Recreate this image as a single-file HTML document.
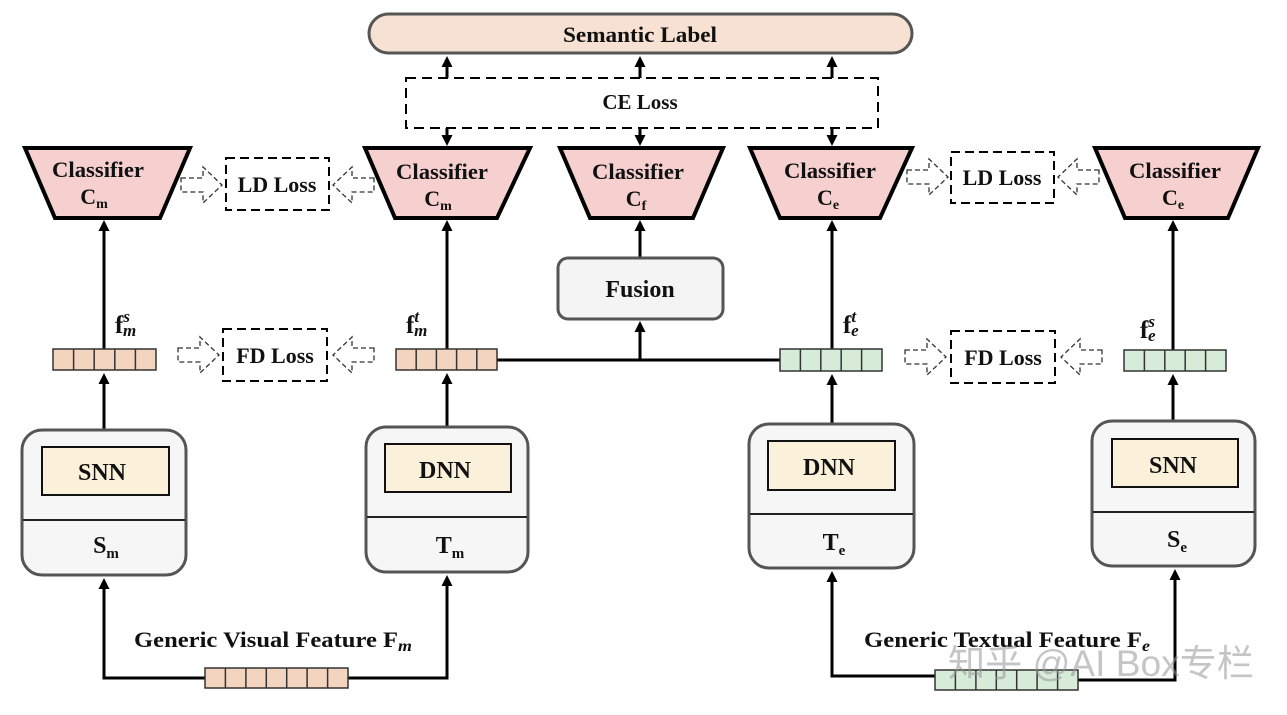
<!DOCTYPE html>
<html><head><meta charset="utf-8"><style>
html,body{margin:0;padding:0;background:#fff;}
svg{display:block;}
text{font-family:"Liberation Serif",serif;font-weight:bold;fill:#111;}
</style></head><body>
<svg width="1287" height="715" viewBox="0 0 1287 715" xmlns="http://www.w3.org/2000/svg">
<defs>
<marker id="ah" markerWidth="11" markerHeight="11" refX="5" refY="5.5" orient="auto" markerUnits="userSpaceOnUse">
<path d="M0,0 L11,5.5 L0,11 Z" fill="#000"/>
</marker>
</defs>
<g id="arrows" stroke="#000" stroke-width="3" fill="none">
<line x1="447" y1="78" x2="447" y2="62" marker-end="url(#ah)"/>
<line x1="640" y1="78" x2="640" y2="62" marker-end="url(#ah)"/>
<line x1="832" y1="78" x2="832" y2="62" marker-end="url(#ah)"/>
<line x1="447" y1="128" x2="447" y2="140" marker-end="url(#ah)"/>
<line x1="640" y1="128" x2="640" y2="140" marker-end="url(#ah)"/>
<line x1="832" y1="128" x2="832" y2="140" marker-end="url(#ah)"/>
<line x1="104" y1="350" x2="104" y2="226" marker-end="url(#ah)"/>
<line x1="447" y1="350" x2="447" y2="226" marker-end="url(#ah)"/>
<line x1="640" y1="258" x2="640" y2="226" marker-end="url(#ah)"/>
<line x1="832" y1="350" x2="832" y2="226" marker-end="url(#ah)"/>
<line x1="1173" y1="350" x2="1173" y2="226" marker-end="url(#ah)"/>
<line x1="497" y1="360" x2="780" y2="360"/>
<line x1="640" y1="360" x2="640" y2="327" marker-end="url(#ah)"/>
<line x1="104" y1="430" x2="104" y2="379" marker-end="url(#ah)"/>
<line x1="447" y1="427" x2="447" y2="379" marker-end="url(#ah)"/>
<line x1="832" y1="424" x2="832" y2="380" marker-end="url(#ah)"/>
<line x1="1173" y1="421" x2="1173" y2="380" marker-end="url(#ah)"/>
<polyline points="205,678 104,678 104,584" marker-end="url(#ah)"/>
<polyline points="348,678 447,678 447,581" marker-end="url(#ah)"/>
<polyline points="935,676 832,676 832,577" marker-end="url(#ah)"/>
<polyline points="1078,680 1175,680 1175,575" marker-end="url(#ah)"/>
</g>

<rect x="369" y="14" width="543" height="39" rx="19.5" fill="#f6e1d2" stroke="#555" stroke-width="3"/>
<text x="640" y="42" font-size="22" text-anchor="middle" textLength="154" lengthAdjust="spacingAndGlyphs">Semantic Label</text>
<rect x="406" y="78" width="472" height="50" fill="none" stroke="#000" stroke-width="2" stroke-dasharray="10,6"/>
<text x="640" y="109" font-size="21" text-anchor="middle">CE Loss</text>

<g stroke="#000" stroke-width="4" fill="#f6cfcf">
<polygon points="25,148 190,148 160,218 55,218"/>
<polygon points="365,148 530,148 497,218 395,218"/>
<polygon points="560,148 723,148 693,218 590,218"/>
<polygon points="750,148 912,148 880,218 780,218"/>
<polygon points="1095,148 1258,148 1228,218 1125,218"/>
</g>
<g font-size="22" text-anchor="middle">
<text x="98" y="177" textLength="92" lengthAdjust="spacingAndGlyphs">Classifier</text><text x="94" y="204">C<tspan font-size="14" dy="4">m</tspan></text>
<text x="442" y="179" textLength="92" lengthAdjust="spacingAndGlyphs">Classifier</text><text x="438" y="206">C<tspan font-size="14" dy="4">m</tspan></text>
<text x="638" y="179" textLength="92" lengthAdjust="spacingAndGlyphs">Classifier</text><text x="636" y="206">C<tspan font-size="14" dy="4">f</tspan></text>
<text x="830" y="178" textLength="92" lengthAdjust="spacingAndGlyphs">Classifier</text><text x="828" y="205">C<tspan font-size="14" dy="4">e</tspan></text>
<text x="1175" y="178" textLength="92" lengthAdjust="spacingAndGlyphs">Classifier</text><text x="1173" y="205">C<tspan font-size="14" dy="4">e</tspan></text>
</g>

<g fill="none" stroke="#000" stroke-width="2" stroke-dasharray="9,5">
<rect x="226" y="158" width="103" height="52"/>
<rect x="951" y="152" width="103" height="51"/>
<rect x="223" y="329" width="104" height="52"/>
<rect x="951" y="331" width="104" height="52"/>
</g>
<g font-size="22" text-anchor="middle">
<text x="277" y="192">LD Loss</text>
<text x="1002" y="185">LD Loss</text>
<text x="275" y="363">FD Loss</text>
<text x="1003" y="365">FD Loss</text>
</g>
<g fill="none" stroke="#333" stroke-width="1.3" stroke-dasharray="5,3">
<polygon points="181,178 203,178 203,167 222,185 203,203 203,192 181,192"/>
<polygon points="374,178 352,178 352,167 333,185 352,203 352,192 374,192"/>
<polygon points="907,170 929,170 929,159 948,177 929,195 929,184 907,184"/>
<polygon points="1099,170 1077,170 1077,159 1058,177 1077,195 1077,184 1099,184"/>
<polygon points="178,348 200,348 200,337 219,355 200,373 200,362 178,362"/>
<polygon points="374,348 352,348 352,337 333,355 352,373 352,362 374,362"/>
<polygon points="905,350 927,350 927,339 946,357 927,375 927,364 905,364"/>
<polygon points="1102,350 1080,350 1080,339 1061,357 1080,375 1080,364 1102,364"/>
</g>

<rect x="558" y="258" width="165" height="61" rx="10" fill="#f4f4f4" stroke="#555" stroke-width="3"/>
<text x="640" y="297" font-size="24" text-anchor="middle">Fusion</text>

<g stroke="#333" stroke-width="1.5">
<g fill="#f3d4bf">
<rect x="53" y="349" width="103" height="21"/>
<rect x="396" y="349" width="101" height="21"/>
<rect x="205" y="668" width="143" height="20"/>
</g>
<g fill="#d7ebd9">
<rect x="780" y="349" width="102" height="22"/>
<rect x="1124" y="350" width="102" height="21"/>
<rect x="935" y="670" width="143" height="20"/>
</g>
<path d="M73.6,349v21M94.2,349v21M114.8,349v21M135.4,349v21
M416.2,349v21M436.4,349v21M456.6,349v21M476.8,349v21
M800.4,349v22M820.8,349v22M841.2,349v22M861.6,349v22
M1144.4,350v21M1164.8,350v21M1185.2,350v21M1205.6,350v21
M225.4,668v20M245.9,668v20M266.3,668v20M286.7,668v20M307.1,668v20M327.6,668v20
M955.4,670v20M975.9,670v20M996.3,670v20M1016.7,670v20M1037.1,670v20M1057.6,670v20" fill="none"/>
</g>
<g font-size="25">
<text x="115" y="333">f<tspan font-size="17" font-style="italic" dy="-11">s</tspan><tspan font-size="17" font-style="italic" dx="-7" dy="14">m</tspan></text>
<text x="406" y="333">f<tspan font-size="17" font-style="italic" dy="-11">t</tspan><tspan font-size="17" font-style="italic" dx="-5" dy="14">m</tspan></text>
<text x="843" y="333">f<tspan font-size="17" font-style="italic" dy="-11">t</tspan><tspan font-size="17" font-style="italic" dx="-5" dy="14">e</tspan></text>
<text x="1140" y="338">f<tspan font-size="17" font-style="italic" dy="-11">s</tspan><tspan font-size="17" font-style="italic" dx="-7" dy="14">e</tspan></text>
</g>

<g stroke="#555" stroke-width="3" fill="#f6f6f6">
<rect x="22" y="430" width="164" height="145" rx="20"/>
<rect x="366" y="427" width="162" height="145" rx="20"/>
<rect x="749" y="424" width="165" height="144" rx="20"/>
<rect x="1092" y="421" width="163" height="145" rx="20"/>
</g>
<g stroke="#222" stroke-width="2">
<line x1="23" y1="520" x2="185" y2="520"/>
<line x1="367" y1="517" x2="527" y2="517"/>
<line x1="750" y1="514" x2="913" y2="514"/>
<line x1="1093" y1="512" x2="1254" y2="512"/>
</g>
<g fill="#fbf0d9" stroke="#111" stroke-width="2">
<rect x="42" y="447" width="127" height="48"/>
<rect x="385" y="444" width="126" height="48"/>
<rect x="768" y="441" width="127" height="49"/>
<rect x="1112" y="439" width="126" height="48"/>
</g>
<g font-size="24" text-anchor="middle">
<text x="102" y="480">SNN</text>
<text x="445" y="478">DNN</text>
<text x="829" y="475">DNN</text>
<text x="1173" y="473">SNN</text>
<text x="106" y="553">S<tspan font-size="15" dy="5">m</tspan></text>
<text x="450" y="553">T<tspan font-size="15" dy="5">m</tspan></text>
<text x="834" y="550">T<tspan font-size="15" dy="5">e</tspan></text>
<text x="1177" y="547">S<tspan font-size="15" dy="5">e</tspan></text>
</g>
<text x="134" y="647" font-size="22" textLength="278" lengthAdjust="spacingAndGlyphs">Generic Visual Feature F<tspan font-style="italic" font-size="16" dy="4">m</tspan></text>
<text x="864" y="647" font-size="22" textLength="286" lengthAdjust="spacingAndGlyphs">Generic Textual Feature F<tspan font-style="italic" font-size="16" dy="4">e</tspan></text>
<text x="948" y="676" font-size="37" textLength="306" lengthAdjust="spacingAndGlyphs" style="font-family:'Liberation Sans','Noto Sans CJK SC',sans-serif;font-weight:normal;fill:rgba(150,150,150,0.55)">知乎 @AI Box专栏</text>
</svg>
</body></html>
